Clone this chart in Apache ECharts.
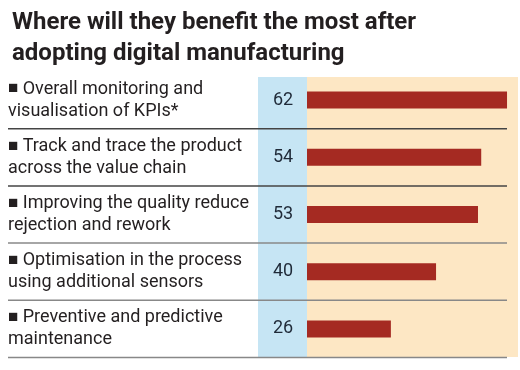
<!DOCTYPE html>
<html><head><meta charset="utf-8">
<script src="https://cdn.jsdelivr.net/npm/echarts@6/dist/echarts.min.js"></script>
<style>html,body{margin:0;padding:0;background:#fff}#c{width:520px;height:370px}</style>
</head><body><div id="c"></div>
<script>
const categories = [
  "Overall monitoring and\nvisualisation of KPIs*",
  "Track and trace the product\nacross the value chain",
  "Improving the quality reduce\nrejection and rework",
  "Optimisation in the process\nusing additional sensors",
  "Preventive and predictive\nmaintenance"
];
const values = [62, 54, 53, 40, 26];
const titleText = "Where will they benefit the most after\nadopting digital manufacturing";

const FONT = "Roboto, sans-serif";
const gridTop = 71.5, gridH = 286, gridLeft = 307, gridW = 211;
const rowH = gridH / categories.length;
const chart = echarts.init(document.getElementById('c'), null, {renderer: 'canvas'});

const graphics = [
  {type:'rect', shape:{x:258, y:77, width:49, height:280}, style:{fill:'#c6e5f4'}, z:-10},
  {type:'rect', shape:{x:307, y:77, width:211, height:280}, style:{fill:'#fde7c4'}, z:-10}
];
categories.forEach((c, i) => {
  const y = gridTop + (i + 1) * rowH;
  graphics.push({type:'line', shape:{x1:8, y1:y, x2:507, y2:y},
    style:{stroke: i < 2 ? '#444' : '#888', lineWidth:1.5}, z:5});
});

chart.setOption({
  animation: false,
  title: {
    text: titleText, left: 7, top: 2,
    textStyle: {fontFamily: FONT, fontSize: 24, fontWeight: 'bold', color: '#231f20', lineHeight: 31}
  },
  graphic: graphics,
  grid: {left: gridLeft, top: gridTop, width: gridW, height: gridH, containLabel: false},
  xAxis: {type: 'value', min: 0, max: 65.4, show: false},
  yAxis: {
    type: 'category', data: categories, inverse: true,
    axisLine: {show: false}, axisTick: {show: false}, splitLine: {show: false},
    axisLabel: {
      align: 'left', margin: gridLeft - 8,
      fontFamily: FONT, fontSize: 18, color: '#231f20', lineHeight: 22,
      formatter: v => { const p = v.split('\n'); return '{sq|■} ' + p[0] + '\n' + p[1]; },
      rich: {sq: {fontSize: 17, color: '#231f20', fontFamily: FONT}}
    }
  },
  series: [{
    type: 'bar', data: values, barWidth: 17,
    itemStyle: {color: '#a52a22'},
    label: {
      show: true, position: [-24, '50%'], align: 'center', verticalAlign: 'middle',
      fontFamily: FONT, fontSize: 18, color: '#1f2a38'
    }
  }]
});
</script></body></html>
